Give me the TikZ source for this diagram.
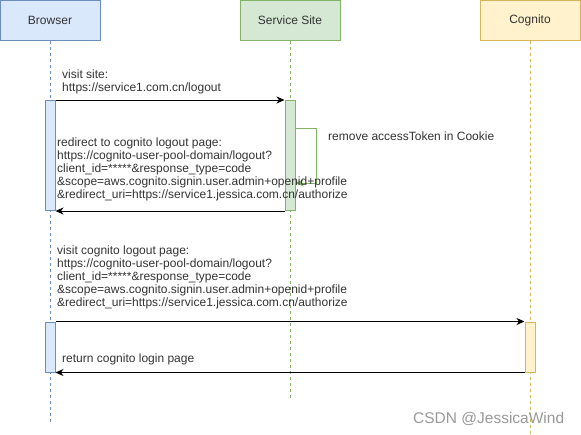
\documentclass[tikz,border=0pt]{standalone}
\usepackage{fontspec}
\setmainfont{Liberation Sans}
\usepackage{tikz}
\usetikzlibrary{arrows.meta}

\definecolor{browserFill}{HTML}{DAE8FC}
\definecolor{browserLine}{HTML}{6C8EBF}
\definecolor{siteFill}{HTML}{D5E8D4}
\definecolor{siteLine}{HTML}{82B366}
\definecolor{cogFill}{HTML}{FFF2CC}
\definecolor{cogLine}{HTML}{D6B656}
\definecolor{txt}{HTML}{333333}

\tikzset{
  actor/.style={draw, line width=1pt, minimum width=100pt, minimum height=40.7pt, inner sep=0pt, text=txt, font=\fontsize{12}{13}\selectfont},
  act/.style={draw, line width=1pt, minimum width=10pt, inner sep=0pt},
  life/.style={line width=1pt, dash pattern=on 3pt off 3pt},
  msg/.style={line width=1pt, -{Stealth[length=8pt, width=7pt, inset=2.5pt]}},
  lbl/.style={inner sep=0pt, align=left, text=txt, font=\fontsize{12}{13}\selectfont},
}

\begin{document}
\begin{tikzpicture}[x=1pt, y=-1pt]
\useasboundingbox (0,0) rectangle (581,434);

% participants
\node[actor, fill=browserFill, draw=browserLine] (browser) at (50,20.35) {Browser};
\node[actor, fill=siteFill, draw=siteLine] (service) at (290,20.35) {Service Site};
\node[actor, fill=cogFill, draw=cogLine] (cognito) at (530,20.35) {Cognito};

% lifelines
\coordinate (browserEnd) at (50,422);
\coordinate (serviceEnd) at (290,401);
\coordinate (cognitoEnd) at (530,434);
\draw[life, browserLine] (browser.south) -- (browserEnd);
\draw[life, siteLine] (service.south) -- (serviceEnd);
\draw[life, cogLine] (cognito.south) -- (cognitoEnd);

% activations
\node[act, fill=browserFill, draw=browserLine, minimum height=110pt] (actB1) at (50,155.5) {};
\node[act, fill=siteFill, draw=siteLine, minimum height=110pt] (actS1) at (290,155.5) {};
\node[act, fill=browserFill, draw=browserLine, minimum height=50pt] (actB2) at (50,347) {};
\node[act, fill=cogFill, draw=cogLine, minimum height=50pt] (actC1) at (530,347) {};

% visit site
\node[lbl, anchor=north west] (visitSite) at (62,69.5) {visit site:\\https://service1.com.cn/logout};
\draw[msg] (actB1.north east) -- (actS1.north west);

% remove token (self call)
\coordinate (loopA) at (316,128);
\coordinate (loopB) at (316,183);
\draw[msg, siteLine] (actS1.east |- loopA) -- (loopA) -- (loopB) -- (actS1.east |- loopB);
\node[lbl, anchor=base west] (removeTok) at (328,140) {remove accessToken in Cookie};

% redirect
\node[lbl, anchor=north west] (redirect) at (57,137.5) {redirect to cognito logout page:\\https://cognito-user-pool-domain/logout?\\client\_id=*****\&response\_type=code\\\&scope=aws.cognito.signin.user.admin+openid+profile\\\&redirect\_uri=https://service1.jessica.com.cn/authorize};
\draw[msg] (actS1.south west) -- (actB1.south east);

% visit cognito
\node[lbl, anchor=north west] (visitCog) at (57,245.5) {visit cognito logout page:\\https://cognito-user-pool-domain/logout?\\client\_id=*****\&response\_type=code\\\&scope=aws.cognito.signin.user.admin+openid+profile\\\&redirect\_uri=https://service1.jessica.com.cn/authorize};
\draw[msg] (actB2.north east) -- (actC1.north west);

% return login page
\node[lbl, anchor=base west] (loginPage) at (62,362) {return cognito login page};
\draw[msg] (actC1.south west) -- (actB2.south east);

% watermark
\node[inner sep=0pt, anchor=base west, text=black!40, font=\fontsize{15.5}{16}\selectfont] (mark) at (413,423.5) {CSDN @JessicaWind};
\end{tikzpicture}
\end{document}
